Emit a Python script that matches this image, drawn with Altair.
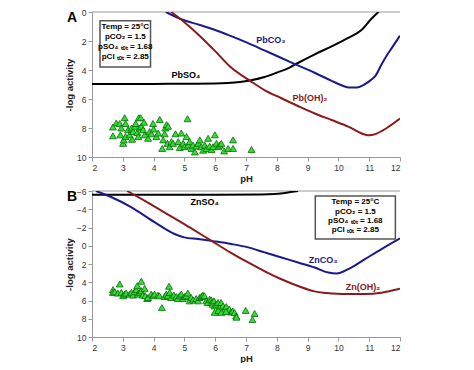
import altair as alt
import pandas as pd

FONT = "Liberation Sans"

# ---------------- Panel A data ----------------
a_so4_ph = [2, 3, 4, 5, 6, 6.4, 6.8, 7.17, 7.6, 7.99, 8.4, 8.7, 9.2, 9.78, 10.3, 10.75, 11.08, 11.3]
a_so4_v = [4.97, 4.97, 4.96, 4.95, 4.93, 4.9, 4.83, 4.7, 4.48, 4.19, 3.85, 3.5, 2.95, 2.37, 1.8, 1.24, 0.45, 0.0]
a_co3_ph = [4.4, 4.9, 5.5, 6.0, 6.5, 7.07, 7.6, 8.15, 8.7, 9.23, 9.78, 10.1, 10.32, 10.6, 10.86, 11.05, 11.2, 11.4, 11.57, 11.73, 12]
a_co3_v = [0, 0.5, 0.9, 1.24, 1.65, 2.15, 2.65, 3.17, 3.7, 4.19, 4.75, 5.05, 5.2, 5.2, 4.98, 4.7, 4.41, 3.62, 3.0, 2.49, 1.63]
a_oh_ph = [4.57, 5.0, 5.5, 6.0, 6.5, 7.17, 7.6, 8.15, 8.7, 9.23, 9.78, 10.32, 10.86, 11.0, 11.2, 11.57, 12]
a_oh_v = [0, 0.7, 1.65, 2.7, 3.8, 4.8, 5.38, 5.95, 6.5, 7.0, 7.45, 7.9, 8.45, 8.5, 8.42, 8.0, 7.35]

a_pts_ph = [2.68, 2.68, 2.79, 2.90, 2.92, 2.95, 3.01, 3.03, 3.06, 3.09, 3.09, 3.17, 3.22, 3.28, 3.30, 3.33,
            3.39, 3.42, 3.47, 3.50, 3.52, 3.55, 3.58, 3.60, 3.66, 3.69, 3.71, 3.82, 3.87, 3.93, 3.98, 4.00,
            4.09, 4.15, 4.20, 4.28, 4.31, 4.36, 4.38, 4.42, 4.45, 4.47, 4.52, 4.58, 4.63, 4.71, 4.80, 4.85,
            4.90, 4.96, 5.01, 5.07, 5.10, 5.12, 5.17, 5.23, 5.28, 5.34, 5.39, 5.45, 5.50, 5.55, 5.61, 5.66,
            5.72, 5.77, 5.82, 5.88, 5.93, 5.99, 6.04, 6.10, 6.15, 6.20, 6.29, 6.42, 6.58, 6.58, 7.18]
a_pts_v = [7.93, 8.54, 7.65, 7.69, 8.47, 8.0, 9.06, 8.82, 7.29, 7.69, 8.59, 8.12, 8.47, 8.0, 8.78, 8.24,
           7.88, 7.69, 8.31, 8.59, 7.29, 8.0, 7.29, 7.88, 8.12, 7.6, 8.47, 8.71, 8.24, 8.4, 7.69, 8.07,
           8.59, 8.35, 7.41, 9.41, 8.82, 8.4, 8.0, 7.76, 9.06, 7.88, 9.29, 8.94, 9.06, 8.4, 8.94, 9.34,
           8.35, 9.06, 9.29, 8.59, 7.36, 9.18, 8.94, 9.41, 9.18, 9.65, 9.25, 9.06, 8.82, 9.29, 9.53, 9.18,
           9.41, 8.71, 9.25, 9.48, 9.29, 8.47, 9.06, 9.29, 9.18, 9.06, 9.58, 9.41, 8.82, 9.41, 9.48]

# ---------------- Panel B data ----------------
b_so4_ph = [2, 4, 6, 7.5, 7.93, 8.2, 8.45, 8.69]
b_so4_v = [-5.6, -5.6, -5.6, -5.62, -5.66, -5.75, -5.88, -6.0]
b_co3_ph = [2.13, 2.62, 3.27, 4.03, 4.68, 5.0, 5.44, 5.98, 6.52, 7.07, 7.61, 8.15, 8.69, 9.23, 9.67, 9.94, 10.32, 10.86, 11.4, 12]
b_co3_v = [-6, -5.34, -4.23, -2.58, -1.29, -0.92, -0.74, -0.48, -0.19, 0.18, 0.73, 1.28, 1.83, 2.39, 2.94, 3.05, 2.57, 1.47, 0.36, -0.81]
b_oh_ph = [3.14, 3.8, 4.5, 5.2, 5.87, 6.5, 7.07, 7.61, 8.15, 8.69, 9.23, 9.5, 9.78, 10.32, 10.86, 11.4, 12]
b_oh_v = [-6, -4.75, -3.35, -1.95, -0.56, 0.75, 1.83, 2.8, 3.67, 4.41, 5.0, 5.15, 5.22, 5.3, 5.29, 5.14, 4.72]

b_pts_ph = [2.68, 2.68, 2.74, 2.84, 2.90, 2.95, 3.01, 3.06, 3.11, 3.22, 3.28, 3.33, 3.38, 3.44, 3.47, 3.49,
            3.55, 3.60, 3.60, 3.65, 3.71, 3.73, 3.79, 3.82, 3.92, 3.98, 4.03, 4.14, 4.19, 4.27, 4.36, 4.41,
            4.46, 4.50, 4.52, 4.57, 4.66, 4.74, 4.79, 4.84, 4.90, 4.95, 5.01, 5.06, 5.11, 5.17, 5.22, 5.28,
            5.38, 5.44, 5.49, 5.55, 5.60, 5.65, 5.71, 5.76, 5.82, 5.87, 5.89, 5.92, 5.96, 5.98, 6.03, 6.09,
            6.14, 6.19, 6.25, 6.30, 6.36, 6.41, 6.46, 6.52, 6.57, 6.63, 6.68, 6.69, 6.99, 7.21, 7.28,
            5.98, 6.10, 6.20, 6.35]
b_pts_v = [4.81, 5.11, 5.04, 5.19, 4.19, 5.11, 5.48, 5.30, 5.19, 5.30, 5.11, 5.41, 5.04, 4.81, 4.37, 5.30,
           5.11, 3.89, 4.93, 5.41, 4.67, 5.48, 5.78, 5.67, 5.30, 5.48, 5.30, 5.41, 5.48, 6.78, 5.56, 5.30,
           5.48, 4.44, 5.11, 5.67, 5.41, 5.56, 5.78, 5.48, 5.30, 5.78, 5.56, 5.48, 5.19, 6.04, 5.67, 5.93,
           5.78, 6.04, 5.67, 5.56, 5.41, 5.48, 6.04, 6.22, 5.85, 5.93, 6.22, 6.41, 6.04, 6.59, 6.41, 6.22,
           6.78, 6.22, 6.59, 6.96, 6.67, 7.15, 6.96, 7.26, 7.15, 7.33, 7.70, 7.83, 7.09, 8.09, 7.42,
           7.3, 7.1, 7.3, 7.2]

box_lines = ["Temp = 25°C", "pCO₂ = 1.5", "pSO₄ ₜₒₜ = 1.68", "pCl ₜₒₜ = 2.85"]

COLORS = {"so4": "#000000", "co3": "#1a1a8c", "oh": "#8b1a1a"}
WIDTH = 308


def curves_df(parts):
    rows = []
    for key, phs, vs in parts:
        for i, (p, v) in enumerate(zip(phs, vs)):
            rows.append({"series": key, "order": i, "pH": p, "v": v})
    return pd.DataFrame(rows)


def panel(letter, parts, pts_ph, pts_v, labels, box, box_text, ydom, yticks, height):
    xsc = alt.Scale(domain=[2, 12], nice=False, zero=False)
    ysc = alt.Scale(domain=ydom, reverse=True, nice=False, zero=False)
    xax = alt.Axis(values=list(range(2, 13)), title="pH", tickSize=4, titlePadding=2, labelOverlap=False)
    yax = alt.Axis(values=yticks, title="-log activity", tickSize=4, titlePadding=2, labelOverlap=False)
    X = lambda f: alt.X(f, scale=xsc, axis=xax)
    Y = lambda f: alt.Y(f, scale=ysc, axis=yax)
    cscale = alt.Scale(domain=list(COLORS.keys()), range=list(COLORS.values()))

    cdf = curves_df(parts)
    lines = alt.Chart(cdf).mark_line(strokeWidth=2, clip=True, interpolate="monotone").encode(
        x=X("pH:Q"), y=Y("v:Q"),
        color=alt.Color("series:N", scale=cscale, legend=None),
        detail="series:N",
        order="order:Q",
    )

    top = alt.Chart(pd.DataFrame({"v": [ydom[0]]})).mark_rule(color="#999", strokeWidth=1).encode(
        y=Y("v:Q"), x=alt.value(0), x2=alt.value(WIDTH)
    )

    pdf = pd.DataFrame({"pH": pts_ph, "v": pts_v})
    pts = alt.Chart(pdf).mark_point(shape="triangle-up", filled=True, size=48, fill="#33dd33",
                                    stroke="#0a6a0a", strokeWidth=0.8, opacity=1).encode(
        x=X("pH:Q"), y=Y("v:Q")
    )

    ldf = pd.DataFrame(labels, columns=["pH", "v", "text", "series"])
    lab = alt.Chart(ldf).mark_text(font=FONT, fontSize=9, fontWeight="bold").encode(
        x=X("pH:Q"), y=Y("v:Q"), text="text:N",
        color=alt.Color("series:N", scale=cscale, legend=None),
    )

    bdf = pd.DataFrame([box], columns=["x1", "x2", "y1", "y2"])
    rect = alt.Chart(bdf).mark_rect(fill="white", stroke="#555555", strokeWidth=1.5).encode(
        x=X("x1:Q"), x2="x2:Q", y=Y("y1:Q"), y2="y2:Q"
    )
    tdf = pd.DataFrame(box_text, columns=["pH", "v", "text"])
    btext = alt.Chart(tdf).mark_text(font=FONT, fontSize=8, fontWeight="bold", color="black").encode(
        x=X("pH:Q"), y=Y("v:Q"), text="text:N"
    )

    let = alt.Chart(pd.DataFrame({"t": [letter]})).mark_text(
        font=FONT, fontSize=14, fontWeight="bold", align="center", baseline="middle", color="black"
    ).encode(x=alt.value(-20), y=alt.value(6), text="t:N")

    return alt.layer(top, lines, pts, lab, rect, btext, let).properties(width=WIDTH, height=height)


A = panel(
    "A",
    [("so4", a_so4_ph, a_so4_v), ("co3", a_co3_ph, a_co3_v), ("oh", a_oh_ph, a_oh_v)],
    a_pts_ph, a_pts_v,
    [(7.81, 1.9, "PbCO₃", "co3"), (5.05, 4.35, "PbSO₄", "so4"), (9.08, 5.9, "Pb(OH)₂", "oh")],
    (2.26, 3.9, 0.6, 3.8),
    [(3.08, 1.05, box_lines[0]), (3.08, 1.73, box_lines[1]), (3.08, 2.41, box_lines[2]), (3.08, 3.09, box_lines[3])],
    [0, 10], [0, 2, 4, 6, 8, 10], 145,
)

B = panel(
    "B",
    [("so4", b_so4_ph, b_so4_v), ("co3", b_co3_ph, b_co3_v), ("oh", b_oh_ph, b_oh_v)],
    b_pts_ph, b_pts_v,
    [(5.66, -4.79, "ZnSO₄", "so4"), (9.5, 1.58, "ZnCO₃", "co3"), (10.8, 4.5, "Zn(OH)₂", "oh")],
    (9.25, 11.85, -5.45, -0.75),
    [(10.55, -4.75, box_lines[0]), (10.55, -3.75, box_lines[1]), (10.55, -2.75, box_lines[2]), (10.55, -1.75, box_lines[3])],
    [-6, 10], [-6, -4, -2, 0, 2, 4, 6, 8, 10], 146,
)

chart = alt.vconcat(A, B, spacing=4).properties(
    padding={"left": 56, "top": 0, "right": 0, "bottom": 0}
).configure_view(stroke=None).configure_axis(
    labelFont=FONT, titleFont=FONT, labelFontSize=8.5, titleFontSize=9.5, titleFontWeight="bold",
    labelColor="#333333", titleColor="#222222", domainColor="#999999", tickColor="#999999", grid=False,
)

chart.save("out.html", embed_options={"renderer": "svg", "actions": False})
